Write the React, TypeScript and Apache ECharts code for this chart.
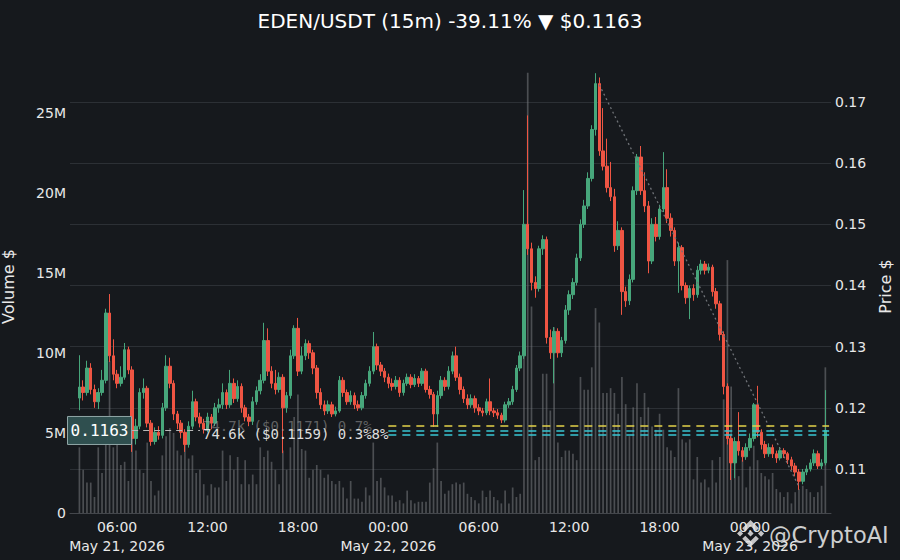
import React, { useEffect, useRef } from "react";
import * as echarts from "echarts";

// ---------- DATA ----------
const TITLE = "EDEN/USDT (15m) -39.11% \u25BC $0.1163";
const START_UTC = Date.UTC(2026, 4, 21, 3, 0); // first axis slot
const SLOT_COUNT = 202; // 15m slots on the axis
const FIRST_CANDLE_SLOT = 2;
const FIRST_OPEN = 0.1216;

const closes = [
  0.1234, 0.1225, 0.1265, 0.1230, 0.1210, 0.1225, 0.1245, 0.1355, 0.1285, 0.1255,
  0.1240, 0.1250, 0.1295, 0.1262, 0.1150, 0.1170, 0.1225, 0.1232, 0.1175, 0.1145,
  0.1160, 0.1155, 0.1200, 0.1268, 0.1240, 0.1190, 0.1175, 0.1160, 0.1140, 0.1170,
  0.1210, 0.1185, 0.1175, 0.1165, 0.1185, 0.1175, 0.1200, 0.1205, 0.1225, 0.1205,
  0.1240, 0.1215, 0.1235, 0.1200, 0.1185, 0.1178, 0.1210, 0.1228, 0.1245, 0.1310,
  0.1260, 0.1240, 0.1230, 0.1250, 0.1200, 0.1220, 0.1285, 0.1330, 0.1260, 0.1285,
  0.1305, 0.1290, 0.1265, 0.1225, 0.1205, 0.1195, 0.1205, 0.1190, 0.1195, 0.1245,
  0.1225, 0.1210, 0.1220, 0.1205, 0.1200, 0.1220, 0.1240, 0.1260, 0.1300, 0.1270,
  0.1260, 0.1250, 0.1240, 0.1235, 0.1245, 0.1225, 0.1240, 0.1250, 0.1238, 0.1248,
  0.1240, 0.1260, 0.1230, 0.1222, 0.1190, 0.1220, 0.1245, 0.1235, 0.1260, 0.1285,
  0.1250, 0.1230, 0.1215, 0.1205, 0.1215, 0.1200, 0.1195, 0.1192, 0.1210, 0.1195,
  0.1192, 0.1188, 0.1180, 0.1205, 0.1210, 0.1230, 0.1265, 0.1285, 0.1500, 0.1460,
  0.1405, 0.1395, 0.1460, 0.1475, 0.1315, 0.1290, 0.1325, 0.1290, 0.1310, 0.1360,
  0.1385, 0.1405, 0.1445, 0.1500, 0.1530, 0.1575, 0.1655, 0.1730, 0.1620, 0.1595,
  0.1560, 0.1545, 0.1465, 0.1490, 0.1390, 0.1375, 0.1410, 0.1555, 0.1610, 0.1555,
  0.1530, 0.1440, 0.1500, 0.1480, 0.1525, 0.1560, 0.1510, 0.1490, 0.1440, 0.1462,
  0.1400, 0.1380, 0.1395, 0.1385, 0.1425, 0.1435, 0.1425, 0.1430, 0.1390, 0.1370,
  0.1320, 0.1235, 0.1150, 0.1110, 0.1145, 0.1130, 0.1120, 0.1135, 0.1150, 0.1205,
  0.1160, 0.1140, 0.1125, 0.1135, 0.1125, 0.1118, 0.1130, 0.1125, 0.1115, 0.1105,
  0.1095, 0.1080, 0.1095, 0.1100, 0.1110, 0.1125, 0.1105, 0.1110, 0.1163,
];

const highs = [
  0.1286, 0.1245, 0.1277, 0.1273, 0.1238, 0.1232, 0.1262, 0.1362, 0.1386, 0.1312,
  0.1262, 0.1268, 0.1306, 0.1300, 0.1268, 0.1182, 0.1232, 0.1248, 0.1236, 0.1180,
  0.1168, 0.1170, 0.1208, 0.1286, 0.1282, 0.1245, 0.1195, 0.1180, 0.1165, 0.1178,
  0.1228, 0.1215, 0.1192, 0.1182, 0.1192, 0.1190, 0.1208, 0.1215, 0.1240, 0.1230,
  0.1262, 0.1248, 0.1245, 0.1240, 0.1205, 0.1190, 0.1218, 0.1235, 0.1255, 0.1339,
  0.1330, 0.1268, 0.1262, 0.1258, 0.1255, 0.1226, 0.1295, 0.1335, 0.1347, 0.1300,
  0.1312, 0.1310, 0.1295, 0.1270, 0.1232, 0.1212, 0.1212, 0.1210, 0.1202, 0.1252,
  0.1250, 0.1230, 0.1228, 0.1225, 0.1212, 0.1226, 0.1246, 0.1268, 0.1324, 0.1305,
  0.1275, 0.1265, 0.1256, 0.1248, 0.1252, 0.1250, 0.1246, 0.1256, 0.1255, 0.1255,
  0.1252, 0.1265, 0.1264, 0.1236, 0.1226, 0.1228, 0.1252, 0.1250, 0.1268, 0.1292,
  0.1300, 0.1256, 0.1235, 0.1222, 0.1222, 0.1220, 0.1206, 0.1200, 0.1215, 0.1248,
  0.1200, 0.1198, 0.1192, 0.1210, 0.1216, 0.1236, 0.1270, 0.1292, 0.1556, 0.1678,
  0.1470, 0.1415, 0.1465, 0.1482, 0.1480, 0.1328, 0.1332, 0.1330, 0.1316, 0.1368,
  0.1392, 0.1412, 0.1452, 0.1508, 0.1540, 0.1585, 0.1662, 0.1747, 0.1740, 0.1690,
  0.1640, 0.1602, 0.1558, 0.1505, 0.1495, 0.1398, 0.1418, 0.1562, 0.1615, 0.1628,
  0.1585, 0.1538, 0.1510, 0.1512, 0.1532, 0.1618, 0.1590, 0.1518, 0.1495, 0.1470,
  0.1466, 0.1405, 0.1400, 0.1402, 0.1432, 0.1442, 0.1440, 0.1436, 0.1434, 0.1396,
  0.1375, 0.1325, 0.1240, 0.1155, 0.1152, 0.1193, 0.1136, 0.1142, 0.1158, 0.1208,
  0.1236, 0.1165, 0.1146, 0.1142, 0.1140, 0.1130, 0.1136, 0.1134, 0.1128, 0.1120,
  0.1110, 0.1100, 0.1100, 0.1106, 0.1116, 0.1132, 0.1130, 0.1116, 0.1229,
];

const lows = [
  0.1196, 0.1212, 0.1220, 0.1222, 0.1200, 0.1198, 0.1220, 0.1240, 0.1275, 0.1245,
  0.1232, 0.1235, 0.1246, 0.1255, 0.1128, 0.1140, 0.1165, 0.1215, 0.1168, 0.1138,
  0.1140, 0.1148, 0.1150, 0.1195, 0.1232, 0.1180, 0.1165, 0.1150, 0.1128, 0.1135,
  0.1165, 0.1178, 0.1168, 0.1158, 0.1160, 0.1165, 0.1170, 0.1192, 0.1198, 0.1198,
  0.1200, 0.1208, 0.1210, 0.1192, 0.1178, 0.1170, 0.1172, 0.1205, 0.1222, 0.1240,
  0.1252, 0.1232, 0.1222, 0.1225, 0.1126, 0.1192, 0.1215, 0.1280, 0.1252, 0.1255,
  0.1278, 0.1280, 0.1255, 0.1215, 0.1198, 0.1188, 0.1190, 0.1185, 0.1186, 0.1192,
  0.1218, 0.1205, 0.1205, 0.1198, 0.1195, 0.1196, 0.1215, 0.1235, 0.1255, 0.1262,
  0.1252, 0.1242, 0.1232, 0.1228, 0.1230, 0.1218, 0.1220, 0.1236, 0.1232, 0.1234,
  0.1234, 0.1236, 0.1225, 0.1215, 0.1169, 0.1169, 0.1215, 0.1228, 0.1230, 0.1255,
  0.1244, 0.1222, 0.1208, 0.1198, 0.1200, 0.1192, 0.1188, 0.1186, 0.1188, 0.1188,
  0.1185, 0.1182, 0.1175, 0.1176, 0.1200, 0.1205, 0.1226, 0.1260, 0.1280, 0.1450,
  0.1392, 0.1380, 0.1390, 0.1450, 0.1305, 0.1280, 0.1240, 0.1282, 0.1283, 0.1305,
  0.1352, 0.1378, 0.1400, 0.1440, 0.1494, 0.1525, 0.1570, 0.1645, 0.1612, 0.1588,
  0.1552, 0.1538, 0.1455, 0.1458, 0.1352, 0.1365, 0.1368, 0.1405, 0.1548, 0.1548,
  0.1520, 0.1420, 0.1435, 0.1472, 0.1475, 0.1520, 0.1502, 0.1480, 0.1432, 0.1388,
  0.1392, 0.1370, 0.1345, 0.1375, 0.1380, 0.1418, 0.1418, 0.1420, 0.1382, 0.1362,
  0.1310, 0.1222, 0.1140, 0.1082, 0.1085, 0.1122, 0.1112, 0.1115, 0.1130, 0.1145,
  0.1152, 0.1132, 0.1118, 0.1120, 0.1118, 0.1110, 0.1114, 0.1118, 0.1108, 0.1098,
  0.1088, 0.1066, 0.1075, 0.1090, 0.1096, 0.1105, 0.1100, 0.1100, 0.1106,
];

// volume in millions of $
const volumesM = [
  4.1, 2.7, 1.9, 1.9, 1.0, 4.1, 2.5, 5.0, 9.5, 4.1,
  4.4, 3.0, 3.2, 2.0, 6.0, 3.9, 2.7, 2.5, 4.4, 2.0,
  1.1, 1.4, 3.6, 4.8, 5.3, 5.0, 3.9, 3.6, 4.4, 3.4,
  3.6, 2.5, 2.7, 1.8, 1.1, 1.8, 1.6, 1.6, 3.9, 2.0,
  3.6, 2.7, 3.5, 1.8, 3.3, 1.8, 2.4, 1.8, 4.1, 3.5,
  3.9, 3.2, 2.7, 1.8, 3.9, 2.7, 4.1, 6.0, 7.4, 4.0,
  3.9, 2.2, 2.7, 3.0, 2.7, 2.2, 2.4, 2.0, 1.8, 2.0,
  1.6, 0.9, 2.0, 0.9, 0.9, 0.7, 1.6, 1.1, 4.4, 2.0,
  2.2, 1.6, 1.1, 1.1, 0.7, 0.8, 0.6, 1.4, 0.8, 0.6,
  0.7, 0.7, 0.7, 1.9, 2.8, 4.4, 2.0, 1.2, 1.4, 1.8,
  1.9, 1.8, 1.9, 1.2, 1.0, 0.8, 0.6, 1.4, 1.0, 1.4,
  1.0, 0.8, 0.6, 1.4, 0.6, 1.6, 1.0, 1.2, 14.0, 27.5,
  12.9, 3.3, 3.5, 8.7, 8.7, 6.4, 11.6, 4.4, 3.5, 3.9,
  3.9, 3.7, 3.3, 8.5, 7.7, 7.7, 9.1, 12.8, 11.9, 7.5,
  7.5, 7.8, 7.5, 6.2, 8.5, 6.8, 4.8, 6.6, 8.1, 6.0,
  7.5, 6.6, 5.4, 5.2, 6.2, 5.2, 4.1, 3.9, 3.5, 7.8,
  4.6, 4.4, 4.6, 2.1, 3.5, 1.9, 2.1, 1.6, 3.3, 1.9,
  3.5, 7.1, 15.8, 7.9, 3.3, 2.3, 3.3, 1.6, 2.9, 4.2,
  3.3, 2.5, 2.3, 2.1, 2.5, 1.5, 1.3, 1.0, 1.3, 0.6,
  1.3, 1.5, 1.7, 1.5, 1.3, 1.0, 1.3, 1.7, 9.1,
];

const volumeTicksM = [0, 5, 10, 15, 20, 25];
const priceTicks = [0.11, 0.12, 0.13, 0.14, 0.15, 0.16, 0.17];

// annotation levels
const CURRENT_PRICE = 0.1163;
const YELLOW_LEVEL = 0.117;
const CYAN_LEVELS = [0.1163, 0.1156];
const TREND_START = { slot: 140, price: 0.1728 };
const TREND_END = { slot: 193, price: 0.1071 };
const LEVEL_START_SLOT = 84;
const CURRENT_LINE_SLOTS = [16, 34];
const ANNOT_TOP = { text: "74.7k ($0.1171) 0.7%", price: 0.11695 };
const ANNOT_BOTTOM = { text: "74.6k ($0.1159) 0.3%8%", price: 0.11575 };
const WATERMARK = "@CryptoAI";

const MONTHS = ["Jan", "Feb", "Mar", "Apr", "May", "Jun", "Jul", "Aug", "Sep", "Oct", "Nov", "Dec"];

const BNB_PATH =
  "M16.624 13.9202l2.7175 2.7154-7.353 7.353-7.353-7.352 2.7175-2.7164 4.6355 4.6595 4.6356-4.6595zm4.6366-4.6366L24 12l-2.7154 2.7164L18.5682 12l2.6924-2.7164zm-9.272.001l2.7163 2.6914-2.7164 2.7174v-.001L9.2721 12l2.7164-2.7154zm-9.2722-.001L5.4088 12l-2.6914 2.6924L0 12l2.7164-2.7164zM11.9885.0115l7.353 7.329-2.7174 2.7154-4.6356-4.6356-4.6355 4.6595-2.7174-2.7154 7.353-7.353z";

try {
  echarts.graphic.registerShape("bnbLogo", echarts.graphic.extendPath(BNB_PATH, {}));
} catch (e) {
  // already registered
}

const pad = (n: number) => String(n).padStart(2, "0");

const slots: string[] = [];
for (let k = 0; k < SLOT_COUNT; k++) {
  const d = new Date(START_UTC + k * 15 * 60000);
  slots.push(
    `${d.getUTCFullYear()}-${pad(d.getUTCMonth() + 1)}-${pad(d.getUTCDate())} ${pad(d.getUTCHours())}:${pad(d.getUTCMinutes())}`
  );
}

const isMajor = (v: string) => {
  const t = v.slice(11);
  return t === "00:00" || t === "06:00" || t === "12:00" || t === "18:00";
};
const firstMajor = slots.find(isMajor);

const candleData: any[] = [];
const volumeData: any[] = [];
for (let k = 0; k < SLOT_COUNT; k++) {
  const j = k - FIRST_CANDLE_SLOT;
  if (j < 0 || j >= closes.length) {
    candleData.push(["-", "-", "-", "-"]);
    volumeData.push("-");
  } else {
    const o = j === 0 ? FIRST_OPEN : closes[j - 1];
    candleData.push([o, closes[j], lows[j], highs[j]]);
    volumeData.push(volumesM[j]);
  }
}

const FONT = "DejaVu Sans";
const MONO = "DejaVu Sans Mono";
const TXT = "#e8e8e8";
const BG = "#16191d";
const UP = "#47a67b";
const DOWN = "#ef5543";

export default function App() {
  const ref = useRef<HTMLDivElement>(null);

  useEffect(() => {
    if (!ref.current) return;
    const chart = echarts.init(ref.current, null, { renderer: "svg" });

    const levelLine = (price: number, color: string, width: number, dash: number[], from: number, to: number) => [
      { coord: [slots[from], price], lineStyle: { color, width, type: dash } },
      { coord: [slots[to], price] },
    ];

    const option: any = {
      animation: false,
      backgroundColor: BG,
      title: {
        text: TITLE,
        left: "center",
        top: 6,
        textStyle: { color: "#ffffff", fontSize: 20, fontWeight: "normal", fontFamily: FONT },
      },
      grid: { left: 70, right: 69, top: 60, bottom: 47, containLabel: false, outerBoundsMode: "none" },
      xAxis: {
        type: "category",
        data: slots,
        boundaryGap: true,
        axisLine: { show: true, lineStyle: { color: "#44474c", width: 1 } },
        axisTick: { show: false },
        splitLine: { show: false },
        axisLabel: {
          interval: (_i: number, v: string) => isMajor(v),
          color: TXT,
          fontFamily: FONT,
          fontSize: 14,
          lineHeight: 19,
          margin: 4,
          formatter: (v: string) => {
            const t = v.slice(11);
            if (t === "00:00" || v === firstMajor) {
              const m = MONTHS[parseInt(v.slice(5, 7), 10) - 1];
              const day = parseInt(v.slice(8, 10), 10);
              return `${t}\n${m} ${day}, ${v.slice(0, 4)}`;
            }
            return t;
          },
        },
      },
      yAxis: [
        {
          type: "value",
          position: "left",
          min: 0,
          max: 28.3,
          interval: volumeTicksM[1] - volumeTicksM[0],
          name: "Volume $",
          nameLocation: "middle",
          nameRotate: 90,
          nameGap: 54,
          nameTextStyle: { color: TXT, fontFamily: FONT, fontSize: 16 },
          axisLine: { show: false },
          axisTick: { show: false },
          splitLine: { show: false },
          axisLabel: {
            color: TXT,
            fontFamily: FONT,
            fontSize: 14,
            margin: 4,
            showMaxLabel: false,
            formatter: (v: number) => (volumeTicksM.includes(v) ? (v === 0 ? "0" : `${v}M`) : ""),
          },
        },
        {
          type: "value",
          position: "right",
          min: 0.10281,
          max: 0.17686,
          splitNumber: 7,
          name: "Price $",
          nameLocation: "middle",
          nameRotate: 90,
          nameGap: 46,
          nameTextStyle: { color: TXT, fontFamily: FONT, fontSize: 16 },
          axisLine: { show: false },
          axisTick: { show: false },
          splitLine: {
            show: true,
            showMinLine: false,
            showMaxLine: false,
            lineStyle: { color: "#2c3035", width: 1 },
          },
          axisLabel: {
            color: TXT,
            fontFamily: FONT,
            fontSize: 14,
            margin: 4,
            showMinLabel: false,
            showMaxLabel: false,
            formatter: (v: number) => {
              const hit = priceTicks.find((p) => Math.abs(p - v) < 1e-6);
              return hit !== undefined ? hit.toFixed(2) : "";
            },
          },
        },
      ],
      series: [
        {
          type: "bar",
          name: "Volume",
          yAxisIndex: 0,
          data: volumeData,
          barWidth: "45%",
          itemStyle: { color: "rgba(120,122,126,0.55)" },
          silent: true,
          z: 1,
        },
        {
          type: "candlestick",
          name: "Price",
          yAxisIndex: 1,
          data: candleData,
          barWidth: "80%",
          itemStyle: {
            color: UP,
            color0: DOWN,
            borderColor: UP,
            borderColor0: DOWN,
            borderWidth: 1,
          },
          z: 3,
          markLine: {
            silent: true,
            symbol: ["none", "none"],
            label: { show: false },
            animation: false,
            data: [
              [
                { coord: [slots[TREND_START.slot], TREND_START.price], lineStyle: { color: "#6f7277", width: 1.3, type: [2, 3] } },
                { coord: [slots[TREND_END.slot], TREND_END.price] },
              ],
              levelLine(CURRENT_PRICE, "#b8b8b8", 1, [6, 5], CURRENT_LINE_SLOTS[0], CURRENT_LINE_SLOTS[1]),
              levelLine(YELLOW_LEVEL, "#e3d24a", 1.6, [8, 6], LEVEL_START_SLOT, SLOT_COUNT - 1),
              ...CYAN_LEVELS.map((p) => levelLine(p, "#39c6d4", 1.5, [8, 6], LEVEL_START_SLOT, SLOT_COUNT - 1)),
            ],
          },
        },
      ],
    };

    chart.setOption(option);

    const py = (p: number) => chart.convertToPixel({ yAxisIndex: 1 }, p) as number;
    const boxY = py(CURRENT_PRICE);
    const topY = py(ANNOT_TOP.price);
    const botY = py(ANNOT_BOTTOM.price);

    chart.setOption({
      graphic: [
        {
          type: "rect",
          z: 100,
          shape: { x: 67.5, y: boxY - 14, width: 64, height: 28 },
          style: { fill: "#2f4f4f", stroke: "#8fa6a6", lineWidth: 1 },
        },
        {
          type: "text",
          z: 101,
          x: 99.5,
          y: boxY,
          style: {
            text: CURRENT_PRICE.toFixed(4),
            fill: "#ffffff",
            font: `16px '${MONO}'`,
            textAlign: "center",
            textVerticalAlign: "middle",
          },
        },
        {
          type: "text",
          z: 99,
          x: 203,
          y: topY,
          style: {
            text: ANNOT_TOP.text,
            fill: "rgba(160,160,160,0.55)",
            font: `14px '${MONO}'`,
            textAlign: "left",
            textVerticalAlign: "middle",
          },
        },
        {
          type: "text",
          z: 100,
          x: 203,
          y: botY,
          style: {
            text: ANNOT_BOTTOM.text,
            fill: "#dedede",
            font: `14px '${MONO}'`,
            textAlign: "left",
            textVerticalAlign: "middle",
          },
        },
        {
          type: "bnbLogo",
          z: 120,
          x: 737,
          y: 520,
          scaleX: 1.13,
          scaleY: 1.13,
          style: { fill: "rgba(228,228,228,0.85)" },
        },
        {
          type: "text",
          z: 120,
          x: 769,
          y: 535,
          style: {
            text: WATERMARK,
            fill: "rgba(232,232,232,0.88)",
            font: `22.5px '${FONT}'`,
            textAlign: "left",
            textVerticalAlign: "middle",
          },
        },
      ],
    });

    return () => chart.dispose();
  }, []);

  return (
    <div
      ref={ref}
      style={{ position: "fixed", left: 0, top: 0, width: 900, height: 560, background: BG }}
    />
  );
}
